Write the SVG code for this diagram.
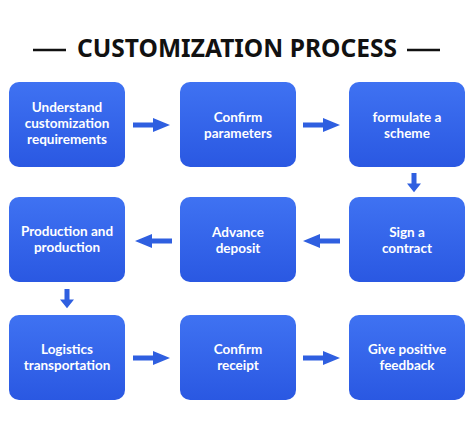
<svg xmlns="http://www.w3.org/2000/svg" width="474" height="427" viewBox="0 0 474 427">
<defs>
<linearGradient id="g" x1="0" y1="0" x2="0" y2="1">
<stop offset="0" stop-color="#3f72f2"/>
<stop offset="1" stop-color="#2a58e2"/>
</linearGradient>
<path id="ar" d="M0,-2.5 H20 V-7 L37,0 L20,7 V2.5 H0 Z" fill="#2f5fe0"/>
</defs>
<style>
.b{fill:url(#g)}
.t{font-family:Lato,"Noto Sans",sans-serif;font-weight:bold;font-size:13.5px;fill:#fff;text-anchor:middle}
</style>
<rect width="474" height="427" fill="#fff"/>
<g id="title">
<line x1="33" y1="50" x2="66" y2="50" stroke="#111" stroke-width="2.5"/>
<line x1="407" y1="50" x2="440" y2="50" stroke="#111" stroke-width="2.5"/>
<text x="237" y="57" text-anchor="middle" font-family="'Noto Sans','Open Sans',sans-serif" font-weight="bold" font-size="24.5" fill="#111" textLength="320" lengthAdjust="spacingAndGlyphs">CUSTOMIZATION PROCESS</text>
</g>
<g id="n1"><rect class="b" x="9" y="82" width="116" height="85" rx="10"/><text class="t" x="67" y="112">Understand</text><text class="t" x="67" y="128">customization</text><text class="t" x="67" y="144">requirements</text></g>
<g id="n2"><rect class="b" x="180" y="82" width="116" height="85" rx="10"/><text class="t" x="238" y="122">Confirm</text><text class="t" x="238" y="138">parameters</text></g>
<g id="n3"><rect class="b" x="349" y="82" width="116" height="85" rx="10"/><text class="t" x="407" y="122">formulate a</text><text class="t" x="407" y="138">scheme</text></g>
<g id="n4"><rect class="b" x="349" y="197" width="116" height="85" rx="10"/><text class="t" x="407" y="237">Sign a</text><text class="t" x="407" y="253">contract</text></g>
<g id="n5"><rect class="b" x="180" y="197" width="116" height="85" rx="10"/><text class="t" x="238" y="237">Advance</text><text class="t" x="238" y="253">deposit</text></g>
<g id="n6"><rect class="b" x="9" y="197" width="116" height="85" rx="10"/><text class="t" x="67" y="236">Production and</text><text class="t" x="67" y="252">production</text></g>
<g id="n7"><rect class="b" x="9" y="315" width="116" height="85" rx="10"/><text class="t" x="67" y="354">Logistics</text><text class="t" x="67" y="370">transportation</text></g>
<g id="n8"><rect class="b" x="180" y="315" width="116" height="85" rx="10"/><text class="t" x="238" y="354">Confirm</text><text class="t" x="238" y="370">receipt</text></g>
<g id="n9"><rect class="b" x="349" y="315" width="116" height="85" rx="10"/><text class="t" x="407" y="354">Give positive</text><text class="t" x="407" y="370">feedback</text></g>
<g id="connectors">
<use href="#ar" transform="translate(133,125)"/>
<use href="#ar" transform="translate(303,125)"/>
<use href="#ar" transform="translate(414,173) rotate(90) scale(0.52,1)"/>
<use href="#ar" transform="translate(340,241) rotate(180)"/>
<use href="#ar" transform="translate(172,241) rotate(180)"/>
<use href="#ar" transform="translate(67,289) rotate(90) scale(0.52,1)"/>
<use href="#ar" transform="translate(133,358)"/>
<use href="#ar" transform="translate(303,358)"/>
</g>
</svg>
